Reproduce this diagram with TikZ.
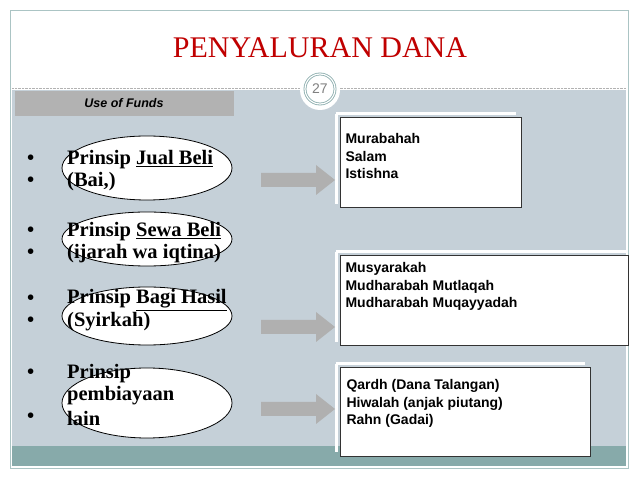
\documentclass[tikz,border=0pt]{standalone}
\usepackage{fontspec}
\setmainfont{Liberation Serif}
\newfontfamily\arial{Liberation Sans}
\usetikzlibrary{shapes.geometric}
\definecolor{panel}{HTML}{C5D0D8}
\definecolor{teal}{HTML}{87AAAA}
\definecolor{titlered}{HTML}{C00000}
\definecolor{arr}{HTML}{B0B0B0}
\tikzset{
 ell/.style={ellipse,draw=black,fill=white,minimum width=170pt,thick},
 bl/.style={anchor=west,font=\bfseries\fontsize{20.5}{22}\selectfont,inner sep=0pt},
 box/.style={draw=black!80,fill=white,thick},
 boxtxt/.style={anchor=north west,align=left,font=\arial\bfseries\fontsize{14}{17.5}\selectfont},
 blockarr/.style={fill=arr,draw=none}
}
\begin{document}
\begin{tikzpicture}[x=1pt,y=-1pt]
\useasboundingbox (0,0) rectangle (638,478);
\fill[white] (0,0) rectangle (638,478);
\draw[teal!70,fill=white] (10,10) rectangle (628,468);
\fill[panel] (12,90) rectangle (626,446);
\fill[teal] (12,446) rectangle (626,466);
\draw[gray!60,densely dotted] (12,88) -- (626,88);
\node[font=\fontsize{30}{32}\selectfont,text=titlered] (title) at (320,48) {PENYALURAN DANA};
\node[circle,fill=white,minimum size=40pt] (c0) at (320,90) {};
\node[circle,draw=teal,thick,double,double distance=1.2pt,minimum size=30pt,fill=white,font=\arial\fontsize{14}{15}\selectfont,text=gray] (num) at (320,89) {27};
\node[fill=black!30,minimum width=219pt,minimum height=25pt,font=\arial\bfseries\itshape\fontsize{12.5}{14}\selectfont] (uof) at (124,103.5) {Use of Funds};
\node[ell,minimum height=64pt] (e1) at (147,168) {};
\node[ell,minimum height=54pt] (e2) at (147,239) {};
\node[ell,minimum height=58pt] (e3) at (147,316) {};
\node[ell,minimum height=70pt] (e4) at (147,403) {};
\foreach \y/\t in {160/{Prinsip \underline{Jual Beli}},182/{(Bai,)},232/{Prinsip \underline{Sewa Beli}},254/{(ijarah wa iqtina)},300/{Prinsip \underline{Bagi Hasil}},322/{(Syirkah)},374/{Prinsip},418/{lain}}{
 \node[bl] at (27,\y) {\textbullet};
 \node[bl] at (67,\y) {\t};}
\node[bl] at (67,396) {pembiayaan};
\draw[white,line width=3pt] (336,114) -- (516,114); \draw[white,line width=3pt] (336,114) -- (336,204);
\draw[white,line width=3pt] (336,252) -- (626,252); \draw[white,line width=3pt] (336,252) -- (336,342);
\draw[white,line width=3pt] (336,364) -- (585,364); \draw[white,line width=3pt] (336,364) -- (336,452);
\draw[box] (340,117) rectangle (521,207); \node (b1) at (430,162) {};
\draw[box] (340,255) rectangle (628,345); \node (b2) at (484,300) {};
\draw[box] (340,367) rectangle (590,456); \node (b3) at (465,411) {};
\node[boxtxt] at (342,130) {Murabahah\\Salam\\Istishna};
\node[boxtxt] at (342,259) {Musyarakah\\Mudharabah Mutlaqah\\Mudharabah Muqayyadah};
\node[boxtxt] at (343,376) {Qardh (Dana Talangan)\\Hiwalah (anjak piutang)\\Rahn (Gadai)};
\foreach \y/\n in {180/a1,327/a2,409/a3}{
 \fill[blockarr] (261,\y-7) -- (316,\y-7) -- (316,\y-15) -- (335,\y) -- (316,\y+15) -- (316,\y+7) -- (261,\y+7) -- cycle;
 \coordinate (\n) at (298,\y);
}
\end{tikzpicture}
\end{document}
